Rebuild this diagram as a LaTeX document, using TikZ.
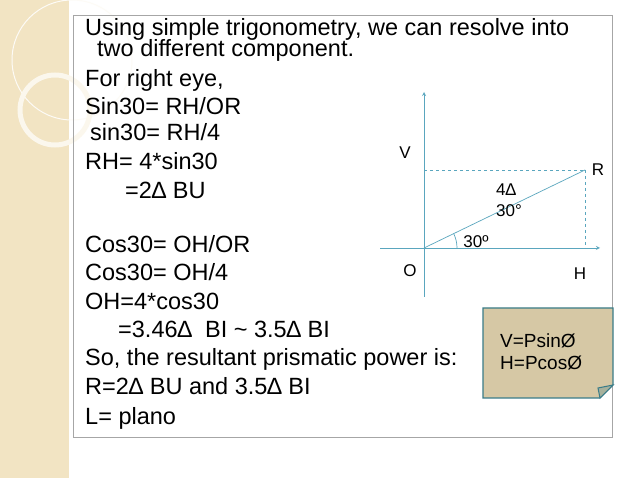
\documentclass[tikz,border=0pt]{standalone}
\usepackage{fontspec}
\setmainfont{Liberation Sans}
\begin{document}
\begin{tikzpicture}[x=1pt,y=-1pt,
  txt/.style={anchor=base west,inner sep=0pt,font=\fontsize{23.5}{28}\selectfont},
  lbl/.style={inner sep=0pt,font=\fontsize{17}{20}\selectfont},
  ax/.style={draw=axisc,line width=0.8pt,->,>=stealth},
  dsh/.style={draw=axisc,line width=0.7pt,dashed}]
\definecolor{axisc}{HTML}{5AA6BE}
\definecolor{beige}{HTML}{F2E4C3}
\definecolor{notef}{HTML}{D6C8A5}
\definecolor{noted}{HTML}{3A7C88}
\useasboundingbox (0,0) rectangle (638,478);
\fill[white] (0,0) rectangle (638,478);
\fill[beige] (0,0) rectangle (69,478);
\draw[white!85!beige,line width=1pt] (72,60) circle (60);
\draw[white!70!beige,line width=5pt] (55,110) circle (35);
\draw[gray!70,line width=0.6pt] (73,15) rectangle (612,437);
\node[txt] (t1) at (85,36) {Using simple trigonometry, we can resolve into};
\node[txt] (t2) at (97,57) {two different component.};
\node[txt] (t3) at (85,87) {For right eye,};
\node[txt] (t4) at (85,115) {Sin30= RH/OR};
\node[txt] (t5) at (90,141) {sin30= RH/4};
\node[txt] (t6) at (85,170) {RH= 4*sin30};
\node[txt] (t7) at (125,199) {=2∆ BU};
\node[txt] (t8) at (85,253) {Cos30= OH/OR};
\node[txt] (t9) at (85,281) {Cos30= OH/4};
\node[txt] (t10) at (85,310) {OH=4*cos30};
\node[txt] (t11) at (118,338) {=3.46∆\ \ BI \textasciitilde\ 3.5∆ BI};
\node[txt] (t12) at (85,366) {So, the resultant prismatic power is:};
\node[txt] (t13) at (85,395) {R=2∆ BU and 3.5∆ BI};
\node[txt] (t14) at (85,425) {L= plano};
% diagram
\coordinate (O) at (424,248);
\coordinate (R) at (585,170);
\coordinate (Vt) at (424,92);
\coordinate (Vb) at (424,297);
\coordinate (Hl) at (380,248);
\coordinate (Hr) at (600,248);
\coordinate (RV) at (424,170);
\coordinate (RH) at (585,248);
\draw[ax] (Vb) -- (Vt);
\draw[ax] (Hl) -- (Hr);
\draw[dsh] (RV) -- (R);
\draw[dsh] (R) -- (RH);
\draw[draw=axisc,line width=0.7pt] (O) -- (R);
\draw[draw=axisc,line width=0.7pt] (457,248) arc[start angle=0,end angle=-26,radius=33];
\node[lbl] (lV) at (405,153) {V};
\node[lbl] (lR) at (598,170) {R};
\node[lbl] (lO) at (410,271) {O};
\node[lbl] (lH) at (580,274) {H};
\node[lbl] (l4) at (506,190) {4∆};
\node[lbl] (l30a) at (509,211) {30\textdegree};
\node[lbl] (l30b) at (476,242) {30º};
% note
\filldraw[fill=notef,draw=noted,line width=1.2pt] (483,308) -- (613,308) -- (613,385) -- (600,398) -- (483,398) -- cycle;
\filldraw[fill=notef!70!noted,draw=noted,line width=1pt] (613,385) -- (598,388) -- (600,398) -- cycle;
\node[lbl,font=\fontsize{19}{22}\selectfont,align=left,anchor=north west] (note) at (500,334) {V=PsinØ\\H=PcosØ};
\end{tikzpicture}
\end{document}
